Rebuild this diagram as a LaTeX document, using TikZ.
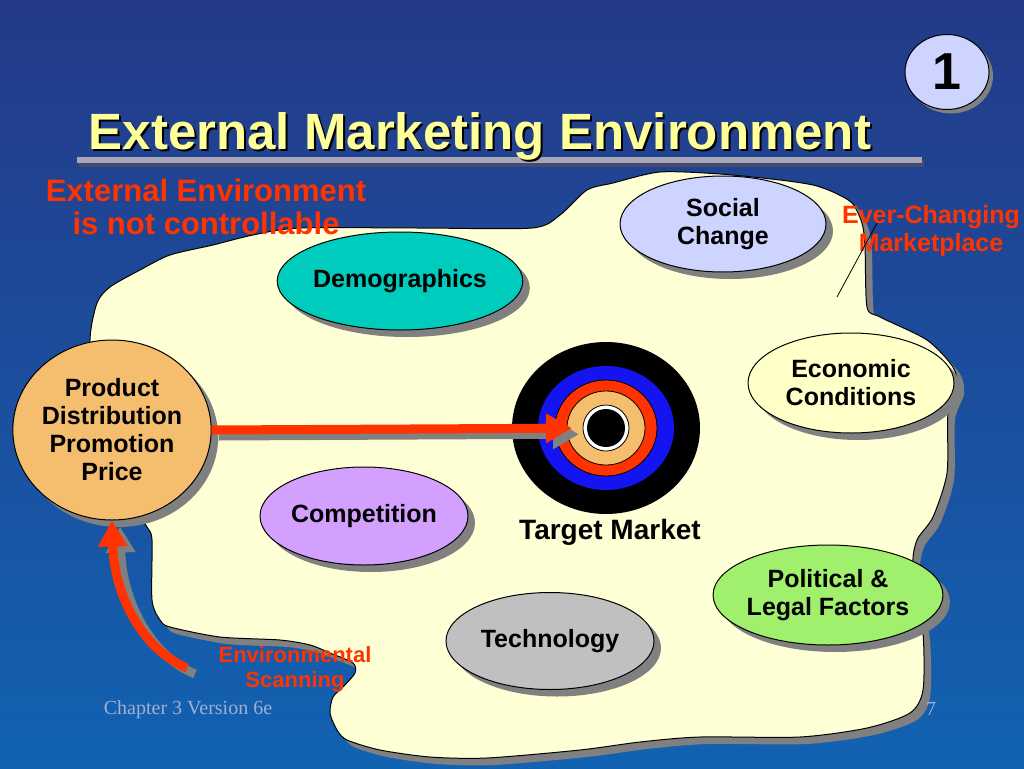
\documentclass[tikz,border=0pt]{standalone}
\usepackage{fontspec}
\setmainfont{Liberation Sans}
\newfontfamily\timesfont{Liberation Serif}
\usetikzlibrary{shapes.geometric,shadows,arrows.meta}
\definecolor{bgtop}{RGB}{36,58,136}
\definecolor{bgbot}{RGB}{18,98,178}
\definecolor{shgray}{RGB}{128,128,128}
\definecolor{blobfill}{RGB}{255,255,213}
\definecolor{titleyellow}{RGB}{255,255,153}
\definecolor{barlight}{RGB}{168,168,184}
\definecolor{bardark}{RGB}{70,74,110}
\definecolor{redtext}{RGB}{255,51,0}
\definecolor{teal}{RGB}{0,204,190}
\definecolor{lavblue}{RGB}{204,212,255}
\definecolor{paleyellow}{RGB}{255,255,200}
\definecolor{lilac}{RGB}{212,160,255}
\definecolor{techgray}{RGB}{192,192,192}
\definecolor{lightgreen}{RGB}{160,240,110}
\definecolor{tan}{RGB}{244,190,110}
\definecolor{ringblue}{RGB}{20,20,240}
\definecolor{footer}{RGB}{160,176,208}
\tikzset{
  ell/.style={ellipse, draw=black, line width=1pt, inner sep=0pt, align=center,
    font=\bfseries\fontsize{25}{28}\selectfont,
    general shadow={fill=shgray, shadow xshift=7pt, shadow yshift=-7pt}},
  ring/.style={ellipse, inner sep=0pt},
  redtxt/.style={text=redtext, align=center},
  bigarrow/.style={line width=9pt, -{Triangle[length=26pt,width=28pt]}},
}
\begin{document}
\begin{tikzpicture}[x=1pt,y=-1pt]
\useasboundingbox (0,0) rectangle (1024,768);
\shade[top color=bgtop, bottom color=bgbot] (0,0) rectangle (1024,768);

% title bar
\fill[bardark] (79,160) rectangle (924,167);
\fill[barlight] (77,157) rectangle (922,163);
\node[anchor=base, font=\bfseries\fontsize{51}{56}\selectfont, text=black] (titlesh) at (482,151) {External Marketing Environment};
\node[anchor=base, font=\bfseries\fontsize{51}{56}\selectfont, text=titleyellow] (title) at (480,149) {External Marketing Environment};

% badge
\node[ellipse, draw=black, fill=lavblue, line width=1pt, minimum width=84pt, minimum height=75pt, inner sep=0pt,
  general shadow={fill=shgray, shadow xshift=4pt, shadow yshift=-4pt},
  font=\bfseries\fontsize{52}{56}\selectfont] (badge) at (947,72) {1};

% blob
\def\blobpath{plot[smooth cycle, tension=0.45] coordinates {
(97,303) (110,287) (140,270) (170,255) (213,245) (253,235) (300,228) (420,228) (532,228)
(560,215) (587,190) (613,183) (660,172) (720,174) (780,180) (813,185) (833,192) (852,203)
(862,223) (865,247) (867,307) (880,317) (927,340) (953,367) (957,387) (948,413) (947,473)
(933,517) (917,540) (913,567) (923,633) (923,690) (910,713) (867,728) (800,737) (700,737)
(640,742) (580,750) (487,758) (430,757) (380,750) (347,740) (337,730) (330,713) (333,697)
(343,687) (355,673) (353,663) (330,653) (310,645) (280,640) (220,637) (170,627) (160,620)
(152,600) (152,540) (147,527) (130,500) (95,400) (90,340)}}
\begin{scope}[shift={(7,7)}]
\fill[shgray] \blobpath;
\end{scope}
\filldraw[fill=blobfill, draw=black, line width=1pt] \blobpath;

% ellipses
\node[ell, fill=lavblue, minimum width=206pt, minimum height=96pt] (social) at (723,224) {Social\\Change};
\node[ell, fill=teal, minimum width=210pt, minimum height=98pt] (demo) at (400,281) {Demographics};
\node[ell, fill=paleyellow, minimum width=206pt, minimum height=100pt] (econ) at (851,383) {Economic\\Conditions};
\node[ell, fill=lilac, minimum width=208pt, minimum height=98pt] (comp) at (364,516) {Competition};
\node[ell, fill=techgray, minimum width=208pt, minimum height=97pt] (tech) at (550,641) {Technology};
\node[ell, fill=lightgreen, minimum width=208pt, minimum height=100pt] (pol) at (828,595) {Political \&\\Legal Factors};
\node[ell, fill=tan, minimum width=192pt, minimum height=180pt] (pp) at (112,430) {Product\\Distribution\\Promotion\\Price};

% target
\node[ring, fill=black, minimum width=188pt, minimum height=172pt] (tgt) at (606,428) {};
\node[ring, fill=ringblue, minimum width=136pt, minimum height=124pt] (tblue) at (tgt.center) {};
\node[ring, fill=redtext, draw=black, line width=0.8pt, minimum width=102pt, minimum height=96pt] (tred) at (tgt.center) {};
\node[ring, fill=tan, draw=black, line width=0.8pt, minimum width=78pt, minimum height=74pt] (ttan) at (tgt.center) {};
\node[ring, fill=white, draw=black, line width=0.8pt, minimum width=46pt, minimum height=46pt] (twhite) at (tgt.center) {};
\node[ring, fill=black, minimum width=38pt, minimum height=38pt] (tcore) at (tgt.center) {};
\node[font=\bfseries\fontsize{28}{32}\selectfont] (tmlabel) at (610,532) {Target Market};

% main arrow
\begin{scope}[transform canvas={xshift=7pt, yshift=-6pt}]
\draw[bigarrow, shgray, shorten >=34pt] (pp.east) -- (tgt.center);
\end{scope}
\draw[bigarrow, redtext, shorten >=34pt] (pp.east) -- (tgt.center);

% scanning arrow
\coordinate (scan) at (187,668);
\begin{scope}[transform canvas={xshift=8pt, yshift=-6pt}]
\draw[bigarrow, shgray] (scan) .. controls (140,648) and (114,592) .. (pp.south);
\end{scope}
\draw[bigarrow, redtext] (scan) .. controls (140,648) and (114,592) .. (pp.south);

% texts
\node[redtxt, font=\bfseries\fontsize{31}{33}\selectfont] (notctrl) at (206,207) {External Environment\\is not controllable};
\node[redtxt, font=\bfseries\fontsize{25}{28}\selectfont] (ever) at (931,231) {Ever-Changing\\Marketplace};
\coordinate (everlow) at (837,297);
\coordinate (everhigh) at (877,223);
\draw[black, line width=0.8pt] (everlow) -- (everhigh);
\node[redtxt, font=\bfseries\fontsize{22}{25}\selectfont] (envscan) at (295,669) {Environmental\\Scanning};
\node[text=footer, font=\timesfont\fontsize{20}{24}\selectfont] (footer) at (188,710) {Chapter 3 Version 6e};
\node[text=footer, font=\timesfont\fontsize{20}{24}\selectfont] (pagenum) at (931,709) {7};
\end{tikzpicture}
\end{document}
